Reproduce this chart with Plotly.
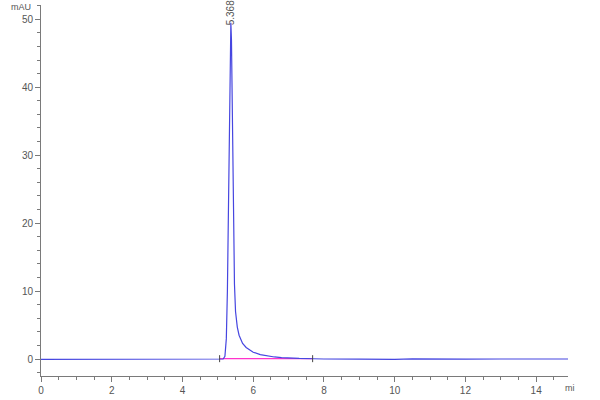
"""HPLC chromatogram, single main peak at 5.368 min."""

import plotly.graph_objects as go

# Signal trace (min, mAU)
time_min = [0, 1, 2, 3, 3.5, 4, 4.5, 5.0, 5.15, 5.2, 5.24, 5.27, 5.3, 5.33,
            5.355, 5.368, 5.385, 5.41, 5.44, 5.47, 5.5, 5.55, 5.6, 5.7, 5.8,
            5.9, 6.0, 6.2, 6.4, 6.6, 6.8, 7.0, 7.3, 7.7, 8, 9, 9.5, 10, 10.5,
            11, 12, 13, 14, 15]
signal_mau = [-0.05, -0.05, -0.05, -0.05, -0.1, -0.05, -0.05, -0.05, 0.0,
              0.4, 3, 10, 22, 38, 47.5, 49.5, 47, 35, 20, 11, 7, 4.7, 3.5,
              2.3, 1.7, 1.3, 1.0, 0.65, 0.42, 0.3, 0.2, 0.14, 0.08, 0.04,
              0.0, -0.02, -0.06, -0.04, 0.03, -0.02, -0.02, 0.0, 0.0, 0.0]

# Integration baseline
base_time = [5.05, 7.68]
base_mau = [0.05, 0.05]

peak_time = 5.368
peak_label = "5.368"

AXIS_GREY = "#7a7a7a"
TEXT_GREY = "#555555"

fig = go.Figure()

fig.add_trace(go.Scatter(
    x=base_time, y=base_mau, mode="lines",
    line=dict(color="#ff33cc", width=1.3), hoverinfo="skip",
))
fig.add_trace(go.Scatter(
    x=time_min, y=signal_mau, mode="lines",
    line=dict(color="#4646e0", width=1.2),
))
# integration start/end marks
fig.add_trace(go.Scatter(
    x=base_time, y=base_mau, mode="markers",
    marker=dict(symbol="line-ns", size=5, line=dict(color="#444", width=1)),
    hoverinfo="skip",
))

fig.add_annotation(
    x=peak_time, y=51, text=peak_label, showarrow=False, textangle=-90,
    yanchor="middle", font=dict(size=10, color=TEXT_GREY),
)
fig.add_annotation(
    xref="paper", yref="paper", x=-0.015, y=0.995, text="mAU",
    showarrow=False, xanchor="right", yanchor="middle",
    font=dict(size=9, color=TEXT_GREY),
)
fig.add_annotation(
    xref="paper", yref="paper", x=0.99, y=0, yshift=-5, text="mi",
    showarrow=False, xanchor="left", yanchor="top",
    font=dict(size=9, color=TEXT_GREY),
)

axis_common = dict(
    showgrid=False, zeroline=False, showline=True, linecolor=AXIS_GREY,
    linewidth=1, ticks="outside", ticklen=5, tickcolor=AXIS_GREY,
    tickfont=dict(size=10, color=TEXT_GREY),
)

fig.update_xaxes(
    range=[0, 14.9], dtick=2, tick0=0,
    minor=dict(dtick=0.5, ticks="outside", ticklen=3, tickcolor=AXIS_GREY),
    **axis_common,
)
fig.update_yaxes(
    range=[-2.5, 52.1], dtick=10, tick0=0,
    minor=dict(dtick=2, ticks="outside", ticklen=3, tickcolor=AXIS_GREY),
    **axis_common,
)

fig.update_layout(
    width=600, height=400,
    margin=dict(l=41, r=32, t=5, b=24),
    plot_bgcolor="white", paper_bgcolor="white",
    showlegend=False,
    font=dict(family="Liberation Sans, Arial, sans-serif"),
)

# drop the default page margin so the 600x400 figure fills the window
fig.write_html(
    "out.html",
    config={"displayModeBar": False},
    post_script="document.body.style.margin='0';",
)
